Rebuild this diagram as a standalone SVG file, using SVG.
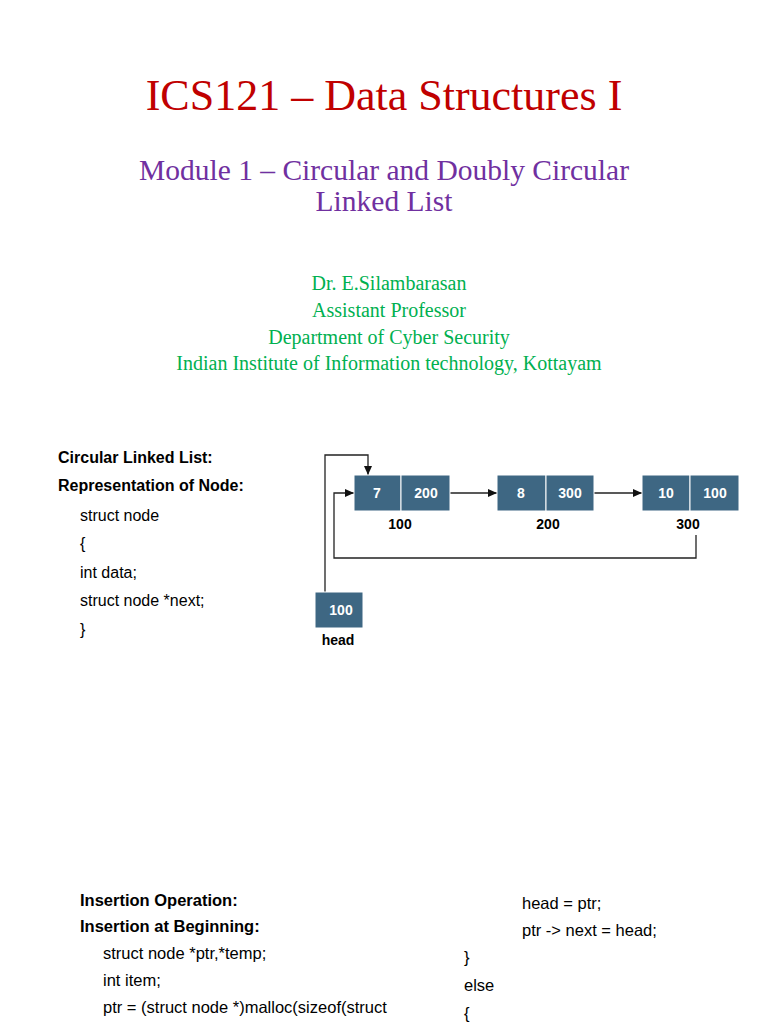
<svg xmlns="http://www.w3.org/2000/svg" width="768" height="1024" viewBox="0 0 768 1024">
<defs>
<marker id="ah" markerWidth="10" markerHeight="10" refX="9" refY="5" orient="auto" markerUnits="userSpaceOnUse"><path d="M0,1 L9,5 L0,9 z" fill="#111"/></marker>
<style>
.t{font-family:"Liberation Serif",serif}
.b{font-family:"Liberation Sans",Arial,sans-serif;font-size:16px;fill:#000}
.s{font-size:16.5px}
.bb{font-weight:bold}
.box{fill:#3E6783;stroke:#fff;stroke-width:1}
.bt{font-family:"Liberation Sans",Arial,sans-serif;font-weight:bold;fill:#fff;font-size:14px;text-anchor:middle}
.lb{font-family:"Liberation Sans",Arial,sans-serif;font-weight:bold;fill:#000;font-size:14px;text-anchor:middle}
.c{fill:none;stroke:#222;stroke-width:1.3}
.g{fill:#00B050;font-size:20px;text-anchor:middle}
</style>
</defs>
<rect width="768" height="1024" fill="#fff"/>
<text class="t" x="384" y="110" font-size="44" fill="#C00000" text-anchor="middle">ICS121 – Data Structures I</text>
<text class="t" x="384" y="180" font-size="29.5" fill="#7030A0" text-anchor="middle">Module 1 – Circular and Doubly Circular</text>
<text class="t" x="384" y="211" font-size="29.5" fill="#7030A0" text-anchor="middle">Linked List</text>
<text class="t g" x="389" y="290">Dr. E.Silambarasan</text>
<text class="t g" x="389" y="317">Assistant Professor</text>
<text class="t g" x="389" y="344">Department of Cyber Security</text>
<text class="t g" x="389" y="370">Indian Institute of Information technology, Kottayam</text>

<g id="text1">
<text class="b bb" x="58" y="463">Circular Linked List:</text>
<text class="b bb" x="58" y="491">Representation of Node:</text>
<text class="b" x="80" y="521">struct node</text>
<text class="b" x="80" y="549">{</text>
<text class="b" x="80" y="578">int data;</text>
<text class="b" x="80" y="606">struct node *next;</text>
<text class="b" x="80" y="635">}</text>
</g>

<g id="connectors">
<path class="c" d="M450,493 H497" marker-end="url(#ah)"/>
<path class="c" d="M594,493 H642" marker-end="url(#ah)"/>
<path class="c" d="M325,592 V455 H368 V475" marker-end="url(#ah)"/>
<path class="c" d="M696,535 V558 H334 V493 H354" marker-end="url(#ah)"/>
</g>
<g id="n1">
<rect class="box" x="354" y="475" width="47" height="36"/><rect class="box" x="401" y="475" width="49" height="36"/>
<text class="bt" x="377" y="498">7</text><text class="bt" x="426" y="498">200</text>
<text class="lb" x="400" y="529">100</text>
</g>
<g id="n2">
<rect class="box" x="497" y="475" width="49" height="36"/><rect class="box" x="546" y="475" width="48" height="36"/>
<text class="bt" x="521" y="498">8</text><text class="bt" x="570" y="498">300</text>
<text class="lb" x="548" y="529">200</text>
</g>
<g id="n3">
<rect class="box" x="642" y="475" width="48" height="36"/><rect class="box" x="690" y="475" width="49" height="36"/>
<text class="bt" x="666" y="498">10</text><text class="bt" x="715" y="498" font-size="12" font-weight="normal">100</text>
<text class="lb" x="688" y="529">300</text>
</g>
<g id="head">
<rect class="box" x="315" y="592" width="48" height="36"/>
<text class="bt" x="341" y="615">100</text>
<text class="lb" x="338" y="645" font-size="16">head</text>
</g>

<g id="text2">
<text class="b bb s" x="80" y="906">Insertion Operation:</text>
<text class="b bb s" x="80" y="932">Insertion at Beginning:</text>
<text class="b s" x="103" y="959">struct node *ptr,*temp;</text>
<text class="b s" x="103" y="986">int item;</text>
<text class="b s" x="103" y="1013">ptr = (struct node *)malloc(sizeof(struct</text>
<text class="b s" x="522" y="909">head = ptr;</text>
<text class="b s" x="522" y="936">ptr -&gt; next = head;</text>
<text class="b s" x="464" y="963">}</text>
<text class="b s" x="464" y="991">else</text>
<text class="b s" x="464" y="1019">{</text>
</g>
</svg>
